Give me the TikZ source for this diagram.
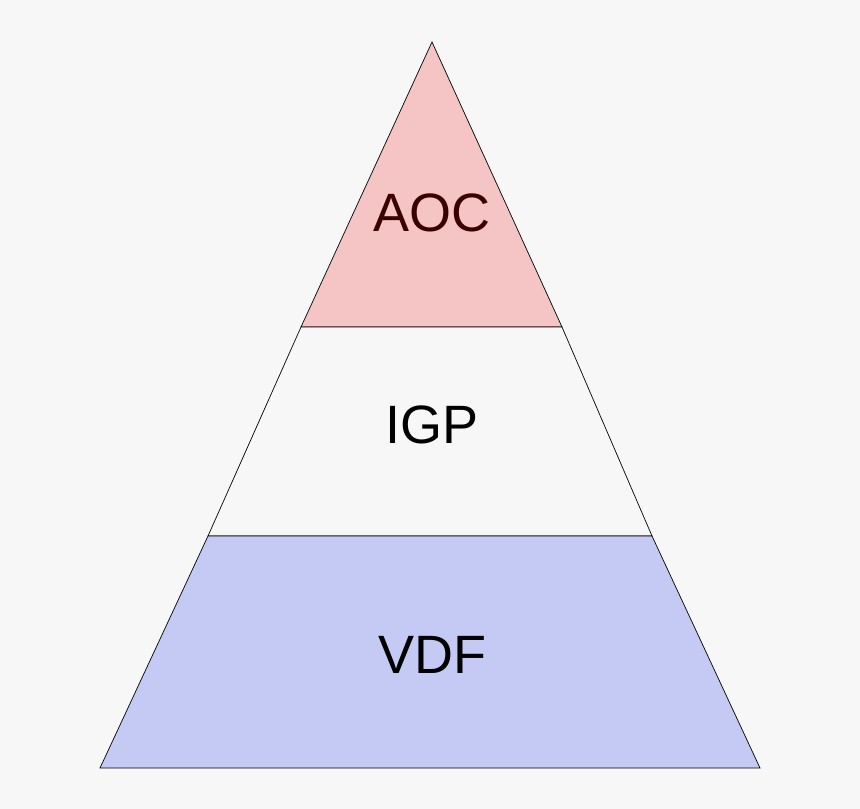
\documentclass[tikz,border=0pt]{standalone}
\usepackage{fontspec}
\setmainfont{Liberation Sans}
\definecolor{bg}{HTML}{F7F7F7}
\definecolor{pinkf}{HTML}{F5C5C5}
\definecolor{bluef}{HTML}{C5CAF5}
\definecolor{aoctext}{HTML}{3A0000}
\begin{document}
\begin{tikzpicture}[x=1pt,y=-1pt,
  tier/.style={draw=black,line width=0.7pt},
  lbl/.style={font=\fontsize{54}{60}\selectfont,inner sep=0pt}]
\fill[bg] (0,0) rectangle (860,809);
\useasboundingbox (0,0) rectangle (860,809);
\filldraw[tier,fill=pinkf] (432,42) -- (562,327) -- (301,327) -- cycle;
\filldraw[tier,fill=bg] (301,327) -- (562,327) -- (652,536) -- (208,536) -- cycle;
\filldraw[tier,fill=bluef] (208,536) -- (652,536) -- (760,768) -- (100,768) -- cycle;
\node[lbl,text=aoctext] (aoc) at (432,213) {AOC};
\node[lbl] (igp) at (432,425) {IGP};
\node[lbl] (vdf) at (432,655) {VDF};
\end{tikzpicture}
\end{document}
